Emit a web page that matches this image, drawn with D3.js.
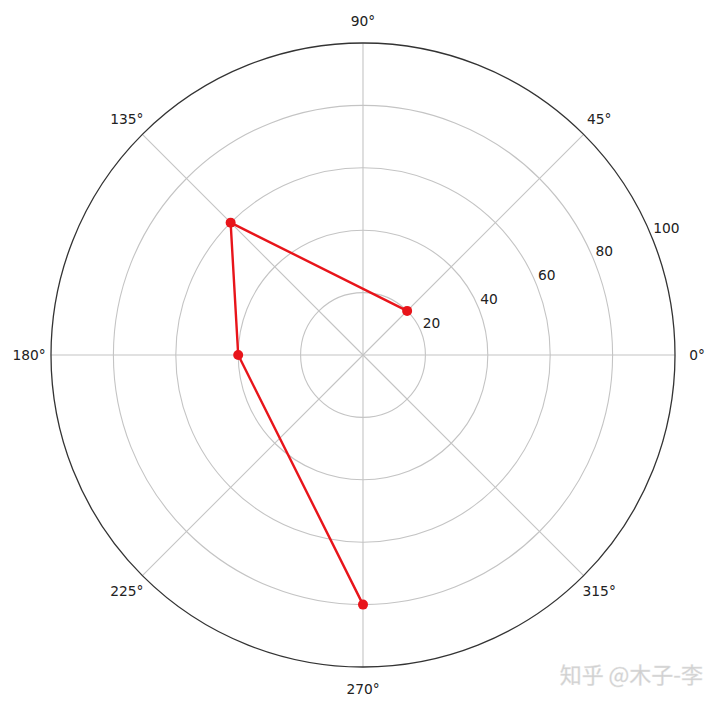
<!DOCTYPE html>
<html><head><meta charset="utf-8">
<script src="https://cdn.jsdelivr.net/npm/d3@7/dist/d3.min.js"></script>
<style>body{margin:0;background:#fff}svg{display:block}</style>
</head><body>
<svg id="c" width="720" height="703"></svg>
<script>
const thetaDeg = [45, 135, 180, 270];
const rValues = [20, 60, 40, 80];
const rTicks = [20, 40, 60, 80, 100];
const angleTicks = [0, 45, 90, 135, 180, 225, 270, 315];
const rMax = 100;

const svg = d3.select("#c");
const cx = 363, cy = 355, R = 312;
const g = svg.append("g").attr("transform", `translate(${cx},${cy})`);
const r = d3.scaleLinear().domain([0, rMax]).range([0, R]);
const toXY = (deg, v) => {
  const a = deg * Math.PI / 180;
  return [r(v) * Math.cos(a), -r(v) * Math.sin(a)];
};
const font = "DejaVu Sans, sans-serif";

// grid circles
g.selectAll("circle.grid").data(rTicks.filter(d => d < rMax)).join("circle")
  .attr("r", d => r(d)).attr("fill", "none")
  .attr("stroke", "#c4c4c4").attr("stroke-width", 1.1);
// spokes
g.selectAll("line.spoke").data(angleTicks).join("line")
  .attr("x1", 0).attr("y1", 0)
  .attr("x2", d => toXY(d, rMax)[0]).attr("y2", d => toXY(d, rMax)[1])
  .attr("stroke", "#c4c4c4").attr("stroke-width", 1.1);
// outer spine
g.append("circle").attr("r", r(rMax)).attr("fill", "none")
  .attr("stroke", "#333").attr("stroke-width", 1.3);

// angle labels
g.selectAll("text.ang").data(angleTicks).join("text")
  .attr("x", d => (R + 22) * Math.cos(d * Math.PI / 180))
  .attr("y", d => -(R + 22) * Math.sin(d * Math.PI / 180))
  .attr("text-anchor", "middle").attr("dominant-baseline", "central")
  .attr("font-family", font).attr("font-size", 13.8).attr("fill", "#222")
  .text(d => d + "°");

// radial labels at 22.5°
g.selectAll("text.rl").data(rTicks).join("text")
  .attr("x", d => toXY(22.5, d)[0] + 2)
  .attr("y", d => toXY(22.5, d)[1] - 3)
  .attr("text-anchor", "start")
  .attr("font-family", font).attr("font-size", 13.8).attr("fill", "#222")
  .text(d => d);

// data line
const pts = thetaDeg.map((t, i) => toXY(t, rValues[i]));
g.append("path").attr("d", d3.line()(pts))
  .attr("fill", "none").attr("stroke", "#e8141a").attr("stroke-width", 2.4)
  .attr("stroke-linejoin", "round");
g.selectAll("circle.pt").data(pts).join("circle")
  .attr("cx", d => d[0]).attr("cy", d => d[1]).attr("r", 5)
  .attr("fill", "#e8141a");

// watermark
svg.append("text").attr("x", 703).attr("y", 683).attr("text-anchor", "end")
  .attr("font-family", "Noto Sans CJK SC, sans-serif").attr("font-size", 22)
  .attr("fill", "#cfcfcf").attr("stroke", "#e4e4e4").attr("stroke-width", 0.4)
  .text("知乎 @木子-李");
</script>
</body></html>
